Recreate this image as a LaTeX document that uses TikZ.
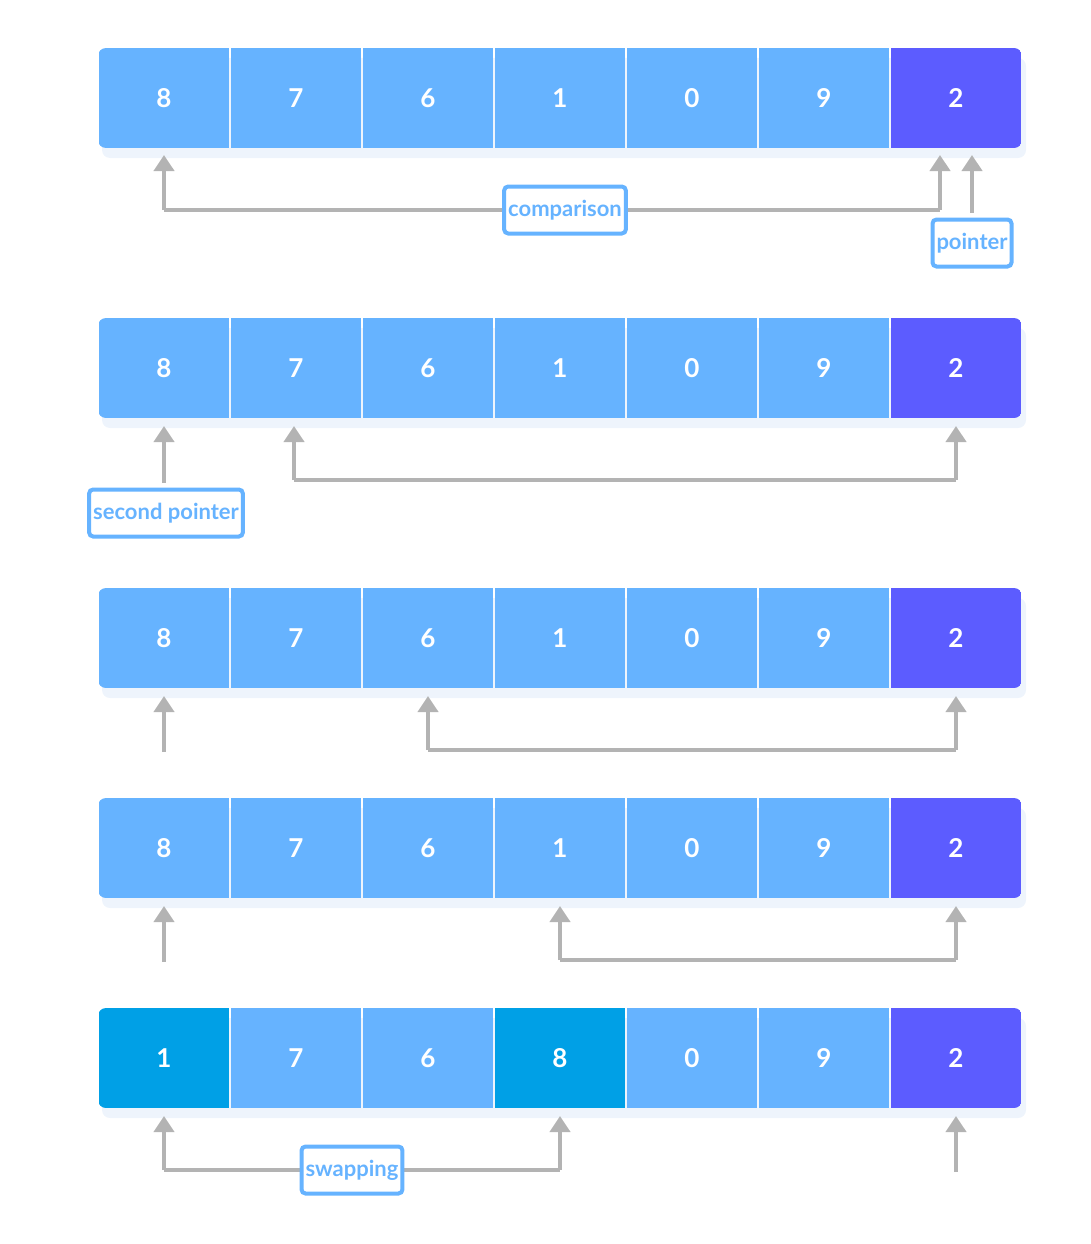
\documentclass[tikz,border=0pt]{standalone}
\usepackage{fontspec}
\setmainfont{Lato}
\usetikzlibrary{arrows.meta}
\definecolor{cellblue}{HTML}{66B3FF}
\definecolor{pivot}{HTML}{5C5CFF}
\definecolor{swapc}{HTML}{00A0E6}
\definecolor{arrowgray}{HTML}{B3B3B3}
\definecolor{shad}{HTML}{EEF4FC}
\tikzset{
  cell/.style={minimum width=130pt, minimum height=100pt, inner sep=0pt, text=white, font=\fontsize{26}{30}\selectfont\bfseries},
  lab/.style={draw=cellblue, line width=4pt, fill=white, rounded corners=4pt, text=cellblue, font=\fontsize{22}{26}\selectfont\bfseries, inner sep=4pt, minimum height=47pt},
  arr/.style={draw=arrowgray, line width=4.5pt, -{Triangle[width=20pt,length=16pt]}},
  ln/.style={draw=arrowgray, line width=4.5pt}
}
\newcommand\myrow[9]{%
  \fill[shad] (102,#1+10) [rounded corners=8pt] rectangle (1026,#1+110);
  \begin{scope}
  \clip[rounded corners=8pt] (98,#1) rectangle (1022,#1+100);
  \node[cell, fill=#9] (r#1c1) at (164,#1+50) {#2};
  \node[cell, fill=cellblue] (r#1c2) at (296,#1+50) {#3};
  \node[cell, fill=cellblue] (r#1c3) at (428,#1+50) {#4};
  \node[cell, fill=#9] (r#1c4) at (560,#1+50) {#5};
  \node[cell, fill=cellblue] (r#1c5) at (692,#1+50) {#6};
  \node[cell, fill=cellblue] (r#1c6) at (824,#1+50) {#7};
  \node[cell, fill=pivot] (r#1c7) at (956,#1+50) {#8};
  \end{scope}}
\begin{document}
\begin{tikzpicture}[x=1pt,y=-1pt]
\useasboundingbox (0,0) rectangle (1090,1244);
\myrow{48}{8}{7}{6}{1}{0}{9}{2}{cellblue}
\myrow{318}{8}{7}{6}{1}{0}{9}{2}{cellblue}
\myrow{588}{8}{7}{6}{1}{0}{9}{2}{cellblue}
\myrow{798}{8}{7}{6}{1}{0}{9}{2}{cellblue}
\myrow{1008}{1}{7}{6}{8}{0}{9}{2}{swapc}
% row 1
\coordinate (a1) at (164,210); \coordinate (b1) at (940,210);
\draw[ln] (a1) -- (b1);
\draw[arr] (a1) -- (164,155);
\draw[arr] (b1) -- (940,155);
\draw[arr] (972,213) -- (972,155);
\node[lab] (cmp) at (565,210) {comparison};
\node[lab] (ptr) at (972,243) {pointer};
% row 2
\draw[arr] (164,483) -- (164,426);
\node[lab] (sp) at (166,513) {second pointer};
\draw[arr] (956,480) -- (956,426);
\draw[ln] (956,480) -- (294,480);
\draw[arr] (294,480) -- (294,426);
% row 3
\draw[arr] (164,752) -- (164,696);
\draw[arr] (956,750) -- (956,696);
\draw[ln] (956,750) -- (428,750);
\draw[arr] (428,750) -- (428,696);
% row 4
\draw[arr] (164,962) -- (164,906);
\draw[arr] (956,960) -- (956,906);
\draw[ln] (956,960) -- (560,960);
\draw[arr] (560,960) -- (560,906);
% row 5
\draw[ln] (164,1170) -- (560,1170);
\draw[arr] (164,1170) -- (164,1116);
\draw[arr] (560,1170) -- (560,1116);
\draw[arr] (956,1172) -- (956,1116);
\node[lab] (sw) at (352,1170) {swapping};
\end{tikzpicture}
\end{document}
